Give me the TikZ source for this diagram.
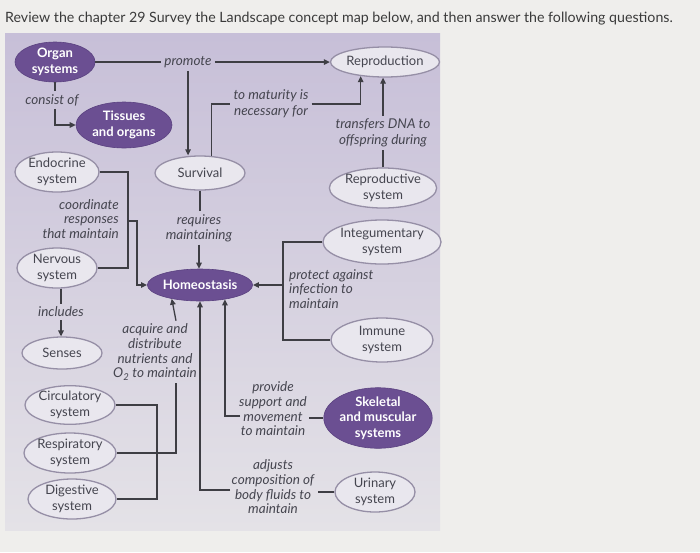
\documentclass[tikz,border=0pt]{standalone}
\usepackage{fontspec}
\setmainfont{Lato}
\usetikzlibrary{shapes.geometric,arrows.meta}
\definecolor{pagebg}{HTML}{EFEEEC}
\definecolor{paneltop}{HTML}{C7BFD8}
\definecolor{panelbot}{HTML}{E4E2E7}
\definecolor{dpurple}{HTML}{6B4F92}
\definecolor{dborder}{HTML}{5A4180}
\definecolor{lfill}{HTML}{E9E7EE}
\definecolor{lborder}{HTML}{968FA6}
\definecolor{linec}{HTML}{3E3E44}
\definecolor{txtc}{HTML}{45454F}
\definecolor{titlec}{HTML}{3A3A3A}
\tikzset{
  dark/.style={ellipse, fill=dpurple, draw=dborder, line width=0.6pt, text=white,
    font=\fontsize{13}{15.5}\selectfont\bfseries, align=center, inner sep=0pt},
  light/.style={ellipse, fill=lfill, draw=lborder, line width=1.3pt, text=txtc,
    font=\fontsize{13}{15.5}\selectfont, align=center, inner sep=0pt},
  lbl/.style={font=\fontsize{13.5}{14.7}\selectfont\itshape, text=txtc, align=center, inner sep=3pt},
  conn/.style={draw=linec, line width=1.3pt},
  arr/.style={-{Triangle[length=6pt,width=5.5pt]}}
}
\begin{document}
\begin{tikzpicture}[x=1pt,y=-1pt]
\useasboundingbox (0,0) rectangle (700,552);
\fill[pagebg] (0,0) rectangle (700,552);
\shade[top color=paneltop,bottom color=panelbot] (5,33) rectangle (440,530);
\node[anchor=west, text=titlec, font=\fontsize{14.2}{16}\selectfont, inner sep=0pt] (title) at (5,19)
  {Review the chapter 29 Survey the Landscape concept map below, and then answer the following questions.};

% nodes
\node[dark, minimum width=80pt, minimum height=40pt] (organ) at (55,62) {Organ\\systems};
\node[dark, minimum width=96pt, minimum height=46pt] (tissue) at (124,125) {Tissues\\and organs};
\node[light, minimum width=94pt, minimum height=30pt] (repro) at (385,62) {Reproduction};
\node[light, minimum width=84pt, minimum height=40pt] (endo) at (57,172) {Endocrine\\system};
\node[light, minimum width=90pt, minimum height=34pt] (surv) at (200,173) {Survival};
\node[light, minimum width=92pt, minimum height=40pt] (rsys) at (383,188) {Reproductive\\system};
\node[light, minimum width=102pt, minimum height=44pt] (integ) at (382,242) {Integumentary\\system};
\node[light, minimum width=80pt, minimum height=40pt] (nerv) at (57,268) {Nervous\\system};
\node[dark, minimum width=90pt, minimum height=32pt] (homeo) at (200,285) {Homeostasis};
\node[light, minimum width=80pt, minimum height=32pt] (senses) at (62,353) {Senses};
\node[light, minimum width=102pt, minimum height=44pt] (immune) at (382,340) {Immune\\system};
\node[light, minimum width=90pt, minimum height=38pt] (circ) at (70,405) {Circulatory\\system};
\node[dark, minimum width=98pt, minimum height=54pt] (skel) at (378,418) {Skeletal\\and muscular\\systems};
\node[light, minimum width=92pt, minimum height=40pt] (resp) at (70,453) {Respiratory\\system};
\node[light, minimum width=80pt, minimum height=40pt] (urin) at (375,492) {Urinary\\system};
\node[light, minimum width=88pt, minimum height=40pt] (dig) at (72,499) {Digestive\\system};

% labels
\node[lbl] (lpromote) at (188,62) {promote};
\node[lbl] (lconsist) at (52,100) {consist of};
\node[lbl, font=\fontsize{13.5}{16}\selectfont\itshape] (lmat) at (271,104) {to maturity is\\necessary for};
\node[lbl, font=\fontsize{13.5}{16}\selectfont\itshape] (ltrans) at (383,133) {transfers DNA to\\offspring during};
\node[lbl, align=right, anchor=east] (lcoord) at (122,219) {coordinate\\responses\\that maintain};
\node[lbl] (lreq) at (199,228) {requires\\maintaining};
\node[lbl, align=left, anchor=west] (lprot) at (286,289) {protect against\\infection to\\maintain};
\node[lbl] (lincl) at (61,312) {includes};
\node[lbl] (lacq) at (155,352) {acquire and\\distribute\\nutrients and\\O\textsubscript{2} to maintain};
\node[lbl] (lprov) at (273,409) {provide\\support and\\movement\\to maintain};
\node[lbl] (ladj) at (273,487) {adjusts\\composition of\\body fluids to\\maintain};

% junction coordinates
\coordinate (jx) at (128,221);
\coordinate (jx2) at (137,221);
\coordinate (jp) at (283,285);
\coordinate (jcd) at (157,450);
\coordinate (acqx) at (176,300);
\coordinate (adjL) at (230,490);
\coordinate (adjR) at (318,492);
\coordinate (provL) at (240,416);
\coordinate (provR) at (309,418);

% connectors
\draw[conn] (organ.east) -- (lpromote.west);
\draw[conn,arr] (lpromote.east) -- (lpromote.east -| repro.west);
\draw[conn,arr] (lpromote.south) -- (lpromote.south |- surv.north);
\draw[conn] (organ.south) -- (organ.south |- lconsist.north);
\draw[conn,arr] (organ.south |- lconsist.south) |- (tissue.west);
\draw[conn] (surv.56) |- (lmat.west);
\draw[conn,arr] (lmat.east) -| (repro.210);
\draw[conn] (rsys.north) -- (rsys.north |- ltrans.south);
\draw[conn,arr] (ltrans.north) -- (ltrans.north |- repro.south);
\draw[conn] (endo.east) -| (jx) |- (nerv.east);
\draw[conn,arr] (jx) -- (jx2) |- (homeo.west);
\draw[conn] (surv.south) -- (surv.south |- lreq.north);
\draw[conn,arr] (lreq.south) -- (lreq.south |- homeo.north);
\draw[conn] (integ.west) -| (jp) |- (immune.west);
\draw[conn,arr] (jp) -- (homeo.east);
\draw[conn] (lincl.north |- nerv.south) -- (lincl.north);
\draw[conn,arr] (lincl.south) -- (lincl.south |- senses.north);
\draw[conn,arr] (acqx |- lacq.north) -- (homeo.206.7);
\draw[conn] (acqx |- lacq.south) |- (resp.east);
\draw[conn] (circ.east) -| (jcd) |- (dig.east);
\draw[conn,arr] (adjL) -| (homeo.south);
\draw[conn] (adjR) -- (urin.west);
\draw[conn,arr] (provL) -| (homeo.330.6);
\draw[conn] (provR) -- (skel.west);
\end{tikzpicture}
\end{document}
